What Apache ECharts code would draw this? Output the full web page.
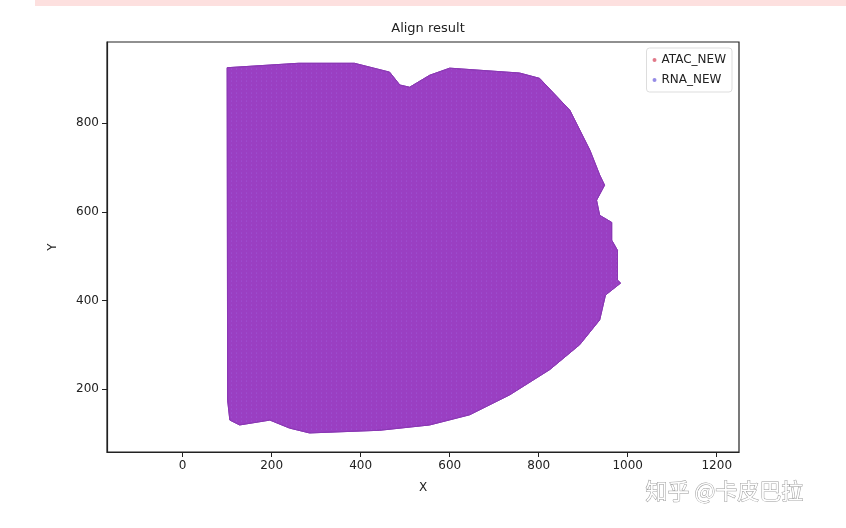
<!DOCTYPE html>
<html>
<head>
<meta charset="utf-8">
<script src="https://cdn.jsdelivr.net/npm/echarts@6/dist/echarts.min.js"></script>
<style>html,body{margin:0;padding:0;background:#fff}#main{width:846px;height:528px}</style>
</head>
<body>
<div id="main"></div>
<script>
// outline of the aligned spot cloud (x, y)
var outlineX = [100, 260, 386, 465, 488, 510, 555, 600, 757, 802, 870, 915, 937, 948, 930, 937, 964, 964, 977, 977, 984, 950, 937, 892, 825, 735, 645, 555, 443, 285, 240, 196, 128, 106, 101, 100];
var outlineY = [925, 935, 935, 915, 886, 881, 908, 924, 913, 901, 829, 739, 683, 660, 626, 592, 576, 536, 513, 446, 439, 412, 356, 300, 244, 187, 142, 119, 107, 101, 112, 130, 119, 130, 175, 925];
var xTicks = [0, 200, 400, 600, 800, 1000, 1200];
var yTicks = [200, 400, 600, 800];
var seriesNames = ['ATAC_NEW', 'RNA_NEW'];
var seriesColors = ['#d9576b', '#7c6fe0'];

var chart = echarts.init(document.getElementById('main'));
var pts = outlineX.map(function (x, i) { return [x, outlineY[i]]; });
var txt = {fontSize: 12, color: '#222', fontFamily: 'DejaVu Sans'};

var option = {
    animation: false,
    title: {
        text: 'Align result', left: 423, top: 17, textAlign: 'center',
        textStyle: {fontSize: 13, fontWeight: 'normal', color: '#222', fontFamily: 'DejaVu Sans'}
    },
    legend: {
        right: 114, top: 48, orient: 'vertical', itemWidth: 4, itemHeight: 4, itemGap: 8,
        padding: [6, 6], borderColor: '#ddd', borderWidth: 1, borderRadius: 3,
        textStyle: txt,
        data: seriesNames.map(function (n) { return {name: n, icon: 'circle'}; })
    },
    grid: {left: 107, right: 107, top: 42, bottom: 76},
    xAxis: {
        type: 'value', min: -170, max: 1250,
        name: 'X', nameLocation: 'middle', nameGap: 30, nameTextStyle: txt,
        axisLine: {onZero: false, lineStyle: {color: '#222', width: 1.2}},
        splitLine: {show: false},
        axisLabel: Object.assign({customValues: xTicks, formatter: function (v) { return String(v); }}, txt),
        axisTick: {show: true, customValues: xTicks, length: 5, lineStyle: {color: '#222'}}
    },
    yAxis: {
        type: 'value', min: 58, max: 983,
        name: 'Y', nameLocation: 'middle', nameGap: 48, nameTextStyle: txt,
        axisLine: {show: true, onZero: false, lineStyle: {color: '#222', width: 1.2}},
        splitLine: {show: false},
        axisLabel: Object.assign({customValues: yTicks}, txt),
        axisTick: {show: true, customValues: yTicks, length: 5, lineStyle: {color: '#222'}}
    },
    graphic: [
        {type: 'rect', shape: {x: 35, y: 0, width: 811, height: 6}, style: {fill: '#fde0df'}},
        {type: 'rect', shape: {x: 107, y: 42, width: 632, height: 410}, style: {fill: 'none', stroke: '#222', lineWidth: 1.2}, z: 10},
        {type: 'text', left: 645, top: 479, style: {text: '知乎 @卡皮巴拉', fontSize: 22, fill: '#fff', stroke: '#999', lineWidth: 1, fontFamily: 'Noto Sans CJK SC'}}
    ],
    series: [
        {name: seriesNames[0], type: 'scatter', data: [], itemStyle: {color: seriesColors[0]}},
        {name: seriesNames[1], type: 'scatter', data: [], itemStyle: {color: seriesColors[1]}},
        {
            type: 'custom', silent: true, data: pts,
            renderItem: function (params, api) {
                if (params.dataIndex !== 0) return null;
                var poly = pts.map(function (p) { return api.coord(p); });
                return {
                    type: 'polygon', shape: {points: poly},
                    style: {fill: '#9a3fc2', stroke: '#8a37b4', lineWidth: 1,
                        decal: {symbol: 'circle', symbolSize: 0.5, dashArrayX: [3, 2], dashArrayY: [2, 2], color: 'rgba(170,140,255,0.45)'}}
                };
            }
        }
    ]
};
chart.setOption(option);
</script>
</body>
</html>
